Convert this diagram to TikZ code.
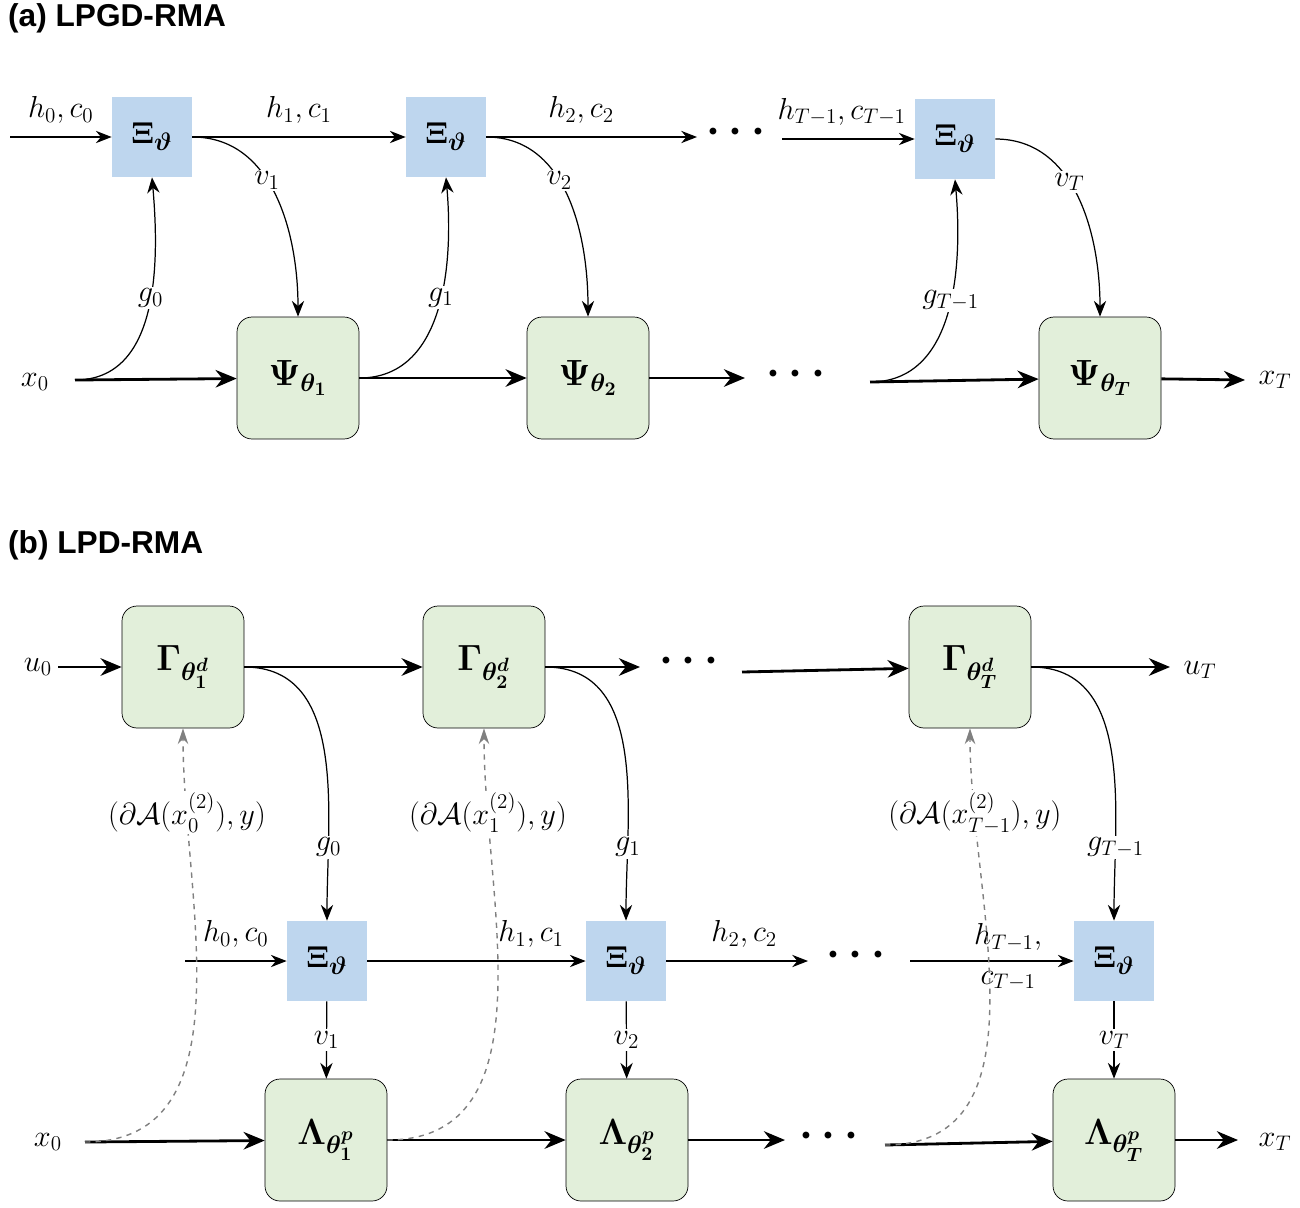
\documentclass[tikz,border=0pt]{standalone}
\usepackage{amsmath}
\usepackage{bm}
\usepackage{fontspec}
\setsansfont{Liberation Sans}
\usetikzlibrary{arrows.meta}

\tikzset{
  xibox/.style={fill={rgb,255:red,190;green,214;blue,238},minimum size=1.6cm,inner sep=0pt,font=\fontsize{19}{22}\selectfont},
  netbox/.style={draw,fill={rgb,255:red,226;green,239;blue,218},rounded corners=0.3cm,minimum size=2.44cm,inner sep=0pt,font=\fontsize{21}{24}\selectfont},
  sarrow/.style={-{Stealth[length=9pt,width=7pt]},line width=0.7pt},
  barrow/.style={-{Stealth[length=12pt,width=10pt]},line width=1.6pt},
  gradarrow/.style={-{Stealth[length=9pt,width=6pt]},gray,dashed,line width=0.8pt},
  lab/.style={fill=white,inner sep=1pt,text=black},
  dots/.style={font=\fontsize{24}{26}\selectfont},
  title/.style={font=\fontsize{18}{22}\selectfont\sffamily\bfseries,anchor=west}
}

\begin{document}
\begin{tikzpicture}
   [x=0.02cm,y=-0.02cm,every node/.append style={font=\fontsize{17}{20}\selectfont}]

   \useasboundingbox (0,0) rectangle (1300,1207);

   % (a)
   \node[title] (ta) at (2,18) {(a) LPGD-RMA};

   \node[xibox] (xa1) at (152,137) {$\bm{\Xi_\vartheta}$};
   \node[xibox] (xa2) at (446,137) {$\bm{\Xi_\vartheta}$};
   \node[xibox] (xa3) at (955,139) {$\bm{\Xi_\vartheta}$};
   \node[netbox] (pa1) at (298,378) {$\bm{\Psi_{\theta_1}}$};
   \node[netbox] (pa2) at (588,378) {$\bm{\Psi_{\theta_2}}$};
   \node[netbox] (pa3) at (1100,378) {$\bm{\Psi_{\theta_T}}$};

   \node (xa0) at (35,382) {$x_0$};
   \node (xaT) at (1275,380) {$x_T$};
   \node[dots] (dta) at (740,132) {$\bm{\cdots}$};
   \node[dots] (dba) at (800,374) {$\bm{\cdots}$};
   \coordinate (ha) at (10,137);
   \coordinate (hb) at (697,137);
   \coordinate (hc) at (782,139);
   \coordinate (ga) at (75,380);
   \coordinate (gb) at (870,382);
   \coordinate (pb) at (745,378);
   \coordinate (pe) at (1245,380);

   \draw[sarrow] (ha) -- (xa1) node[midway,above=4pt] {$h_0,c_0$};
   \draw[sarrow] (xa1) -- (xa2) node[midway,above=4pt] {$h_1,c_1$};
   \draw[sarrow] (xa2) -- (hb) node[pos=0.45,above=4pt] {$h_2,c_2$};
   \draw[sarrow] (hc) -- (xa3) node[pos=0.45,above=4pt] {$h_{T-1},c_{T-1}$};

   \draw[sarrow] (xa1.east) to[out=0,in=90] node[lab,pos=0.42] {$v_1$} (pa1.north);
   \draw[sarrow] (xa2.east) to[out=0,in=90] node[lab,pos=0.42] {$v_2$} (pa2.north);
   \draw[sarrow] (xa3.east) to[out=0,in=90] node[lab,pos=0.42] {$v_T$} (pa3.north);

   \draw[sarrow] (ga) to[out=0,in=-85] node[lab,pos=0.55] {$g_0$} (xa1.south);
   \draw[sarrow] (pa1.east) to[out=0,in=-85] node[lab,pos=0.55] {$g_1$} (xa2.south);
   \draw[sarrow] (gb) to[out=0,in=-85] node[lab,pos=0.55] {$g_{T-1}$} (xa3.south);

   \draw[barrow] (ga) -- (pa1);
   \draw[barrow] (pa1) -- (pa2);
   \draw[barrow] (pa2) -- (pb);
   \draw[barrow] (gb) -- (pa3);
   \draw[barrow] (pa3) -- (pe);

   % (b)
   \node[title] (tb) at (2,545) {(b) LPD-RMA};

   \node[netbox] (ga1) at (183,667) {$\bm{\Gamma_{\theta^d_1}}$};
   \node[netbox] (ga2) at (484,667) {$\bm{\Gamma_{\theta^d_2}}$};
   \node[netbox] (ga3) at (970,667) {$\bm{\Gamma_{\theta^d_T}}$};
   \node[xibox] (xb1) at (327,961) {$\bm{\Xi_\vartheta}$};
   \node[xibox] (xb2) at (626,961) {$\bm{\Xi_\vartheta}$};
   \node[xibox] (xb3) at (1114,961) {$\bm{\Xi_\vartheta}$};
   \node[netbox] (la1) at (326,1140) {$\bm{\Lambda_{\theta^p_1}}$};
   \node[netbox] (la2) at (627,1140) {$\bm{\Lambda_{\theta^p_2}}$};
   \node[netbox] (la3) at (1114,1140) {$\bm{\Lambda_{\theta^p_T}}$};

   \node (u0) at (38,667) {$u_0$};
   \node (uT) at (1200,670) {$u_T$};
   \node (xb0) at (48,1142) {$x_0$};
   \node (xbT) at (1275,1142) {$x_T$};
   \node[dots] (dgb) at (693,661) {$\bm{\cdots}$};
   \node[dots] (dxb) at (860,955) {$\bm{\cdots}$};
   \node[dots] (dlb) at (833,1136) {$\bm{\cdots}$};
   \coordinate (ua) at (640,667);
   \coordinate (ub) at (742,672);
   \coordinate (ue) at (1170,667);
   \coordinate (hd) at (185,961);
   \coordinate (he) at (808,961);
   \coordinate (hf) at (910,961);
   \coordinate (la) at (85,1142);
   \coordinate (lb) at (785,1140);
   \coordinate (lc) at (885,1145);
   \coordinate (le) at (1238,1140);

   \draw[barrow] (u0) -- (ga1);
   \draw[barrow] (ga1) -- (ga2);
   \draw[barrow] (ga2) -- (ua);
   \draw[barrow] (ub) -- (ga3);
   \draw[barrow] (ga3) -- (ue);

   \draw[sarrow] (ga1.east) to[out=0,in=90] node[lab,pos=0.78] {$g_0$} (xb1.north);
   \draw[sarrow] (ga2.east) to[out=0,in=90] node[lab,pos=0.78] {$g_1$} (xb2.north);
   \draw[sarrow] (ga3.east) to[out=0,in=90] node[lab,pos=0.78] {$g_{T-1}$} (xb3.north);

   \draw[sarrow] (hd) -- (xb1) node[midway,above=4pt] {$h_0,c_0$};
   \draw[sarrow] (xb1) -- (xb2) node[pos=0.75,above=4pt] {$h_1,c_1$};
   \draw[sarrow] (xb2) -- (he) node[pos=0.55,above=4pt] {$h_2,c_2$};
   \draw[sarrow] (hf) -- (xb3) node[pos=0.6,above=2pt] {$h_{T-1},$} node[pos=0.6,below=2pt] {$c_{T-1}$};

   \draw[sarrow] (xb1) -- node[lab] {$v_1$} (la1);
   \draw[sarrow] (xb2) -- node[lab] {$v_2$} (la2);
   \draw[sarrow] (xb3) -- node[lab] {$v_T$} (la3);

   \draw[barrow] (la) -- (la1);
   \draw[barrow] (la1) -- (la2);
   \draw[barrow] (la2) -- (lb);
   \draw[barrow] (lc) -- (la3);
   \draw[barrow] (la3) -- (le);

   \draw[gradarrow] (la) to[out=0,in=-90] node[lab,pos=0.84] {$(\partial\mathcal{A}(x^{(2)}_0),y)$} (ga1.south);
   \draw[gradarrow] (la1.east) to[out=0,in=-90] node[lab,pos=0.84] {$(\partial\mathcal{A}(x^{(2)}_1),y)$} (ga2.south);
   \draw[gradarrow] (lc) to[out=0,in=-90] node[lab,pos=0.84] {$(\partial\mathcal{A}(x^{(2)}_{T-1}),y)$} (ga3.south);
\end{tikzpicture}
\end{document}
